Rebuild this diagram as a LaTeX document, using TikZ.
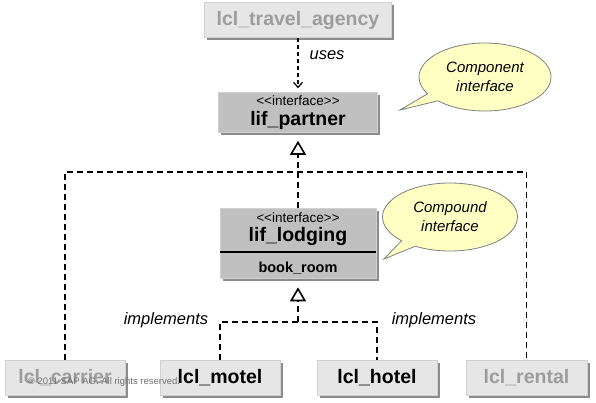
\documentclass[tikz,border=0pt]{standalone}
\usepackage{fontspec}
\setmainfont{Liberation Sans}
\usetikzlibrary{arrows.meta}
\usetikzlibrary{shapes.callouts,shadows}
\usetikzlibrary{positioning}

\definecolor{boxlight}{HTML}{E6E6E6}
\definecolor{boxiface}{HTML}{C0C0C0}
\definecolor{txtgray}{HTML}{9C9C9C}
\definecolor{notefill}{HTML}{FFFFC4}
\definecolor{noteline}{HTML}{7F7F7F}

\tikzset{
  classbox/.style={rectangle, fill=boxlight, draw=black!18, line width=0.6pt,
    inner sep=0pt, minimum height=35pt,
    general shadow={shadow xshift=2.5pt, shadow yshift=-2.5pt, fill=black!45},
    font=\fontsize{19.5}{22}\selectfont\bfseries},
  greyed/.style={text=txtgray},
  ifacebox/.style={classbox, fill=boxiface},
  stereo/.style={font=\fontsize{13.5}{15}\selectfont, inner sep=0pt},
  ifname/.style={font=\fontsize{19.5}{22}\selectfont\bfseries, inner sep=0pt},
  realize/.style={line width=1.6pt, dash pattern=on 6pt off 4pt},
  usedep/.style={line width=1.2pt, dash pattern=on 4pt off 3pt,
    -{Straight Barb[length=5pt,width=9pt]}},
  gentri/.style={-{Triangle[open, length=14pt, width=16pt, line width=1.6pt]}},
  note/.style={ellipse callout, fill=notefill, draw=noteline, line width=0.8pt,
    align=center, inner sep=0pt, font=\fontsize{15}{19}\selectfont\itshape},
  lbl/.style={font=\fontsize{16.5}{20}\selectfont\itshape, inner sep=0pt}
}

\begin{document}
\begin{tikzpicture}[x=1pt,y=-1pt,line cap=butt]

  \useasboundingbox (0,0) rectangle (596,402);

  \node[classbox, greyed, minimum width=187pt] (agency) at (298,20) {lcl\_travel\_agency};

  \node[ifacebox, minimum width=159pt, minimum height=40pt] (partner) at (298,112.5) {};
  \node[stereo] (partnerst) at (298,101) {<{}<interface>{}>};
  \node[ifname] (partnername) at (298,120) {lif\_partner};

  \node[ifacebox, minimum width=156pt, minimum height=70pt] (lodging) at (298,243) {};
  \node[stereo] (lodgingst) at (298,218) {<{}<interface>{}>};
  \node[ifname] (lodgingname) at (298,236) {lif\_lodging};
  \draw[line width=2pt] ([yshift=-9pt]lodging.west) -- ([yshift=-9pt]lodging.east);
  \node[font=\fontsize{14.5}{17}\selectfont\bfseries, inner sep=0pt] (bookroom) at (298,268) {book\_room};

  \node[classbox, greyed, minimum width=120pt] (carrier) at (65,378) {lcl\_carrier};
  \node[classbox, minimum width=120pt] (motel) at (220,378) {lcl\_motel};
  \node[classbox, minimum width=120pt] (hotel) at (377,378) {lcl\_hotel};
  \node[classbox, greyed, minimum width=121pt] (rental) at (526.5,378) {lcl\_rental};

  \coordinate (upjoin) at (298,172);
  \coordinate (lowjoin) at (298,322);

  \draw[usedep, shorten >=4pt] (agency) -- (partner);
  \node[lbl] (useslbl) at (327,55) {uses};

  \draw[realize] (carrier) |- (upjoin) -| (rental);
  \draw[realize, gentri, shorten >=8pt] (lodging) -- (partner);

  \draw[realize] (motel) |- (lowjoin) -| (hotel);
  \draw[realize, gentri, shorten >=9pt] (lowjoin) -- (lodging);
  \node[lbl] (implleft) at (166,320) {implements};
  \node[lbl] (implright) at (434,320) {implements};

  \node[note, minimum width=132pt, minimum height=68pt,
    callout absolute pointer={(400,110)}] (compnote) at (485,77) {Component\\interface};
  \node[note, minimum width=135pt, minimum height=68pt,
    callout absolute pointer={(384,259)}] (cmpdnote) at (450,217) {Compound\\interface};

  \node[font=\fontsize{9.5}{11}\selectfont, text=black!55, inner sep=0pt] (copyr) at (104,382) {© 2011 SAP AG. All rights reserved.};

\end{tikzpicture}
\end{document}
